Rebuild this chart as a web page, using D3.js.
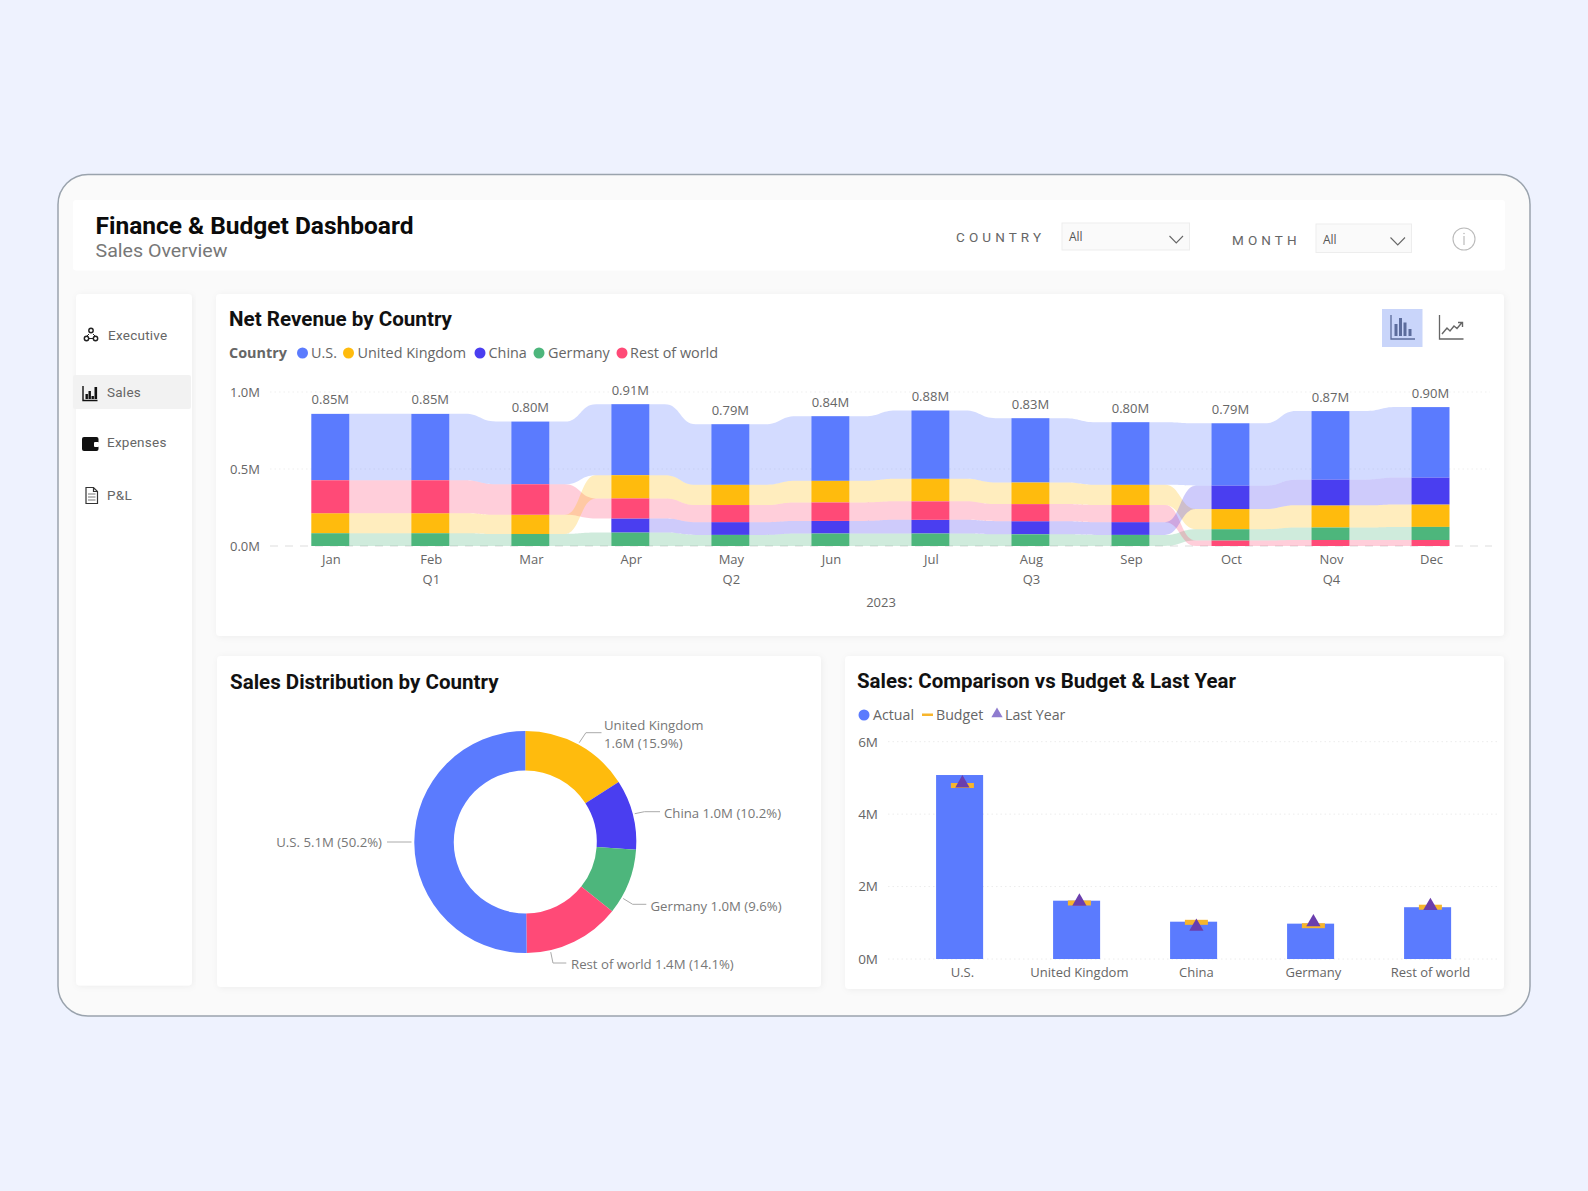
<!DOCTYPE html>
<html><head><meta charset="utf-8">
<script src="https://cdnjs.cloudflare.com/ajax/libs/d3/7.8.5/d3.min.js"></script>
<style>
html,body{margin:0;padding:0;background:#EEF2FE;}
svg{display:block;}
text{font-family:"Open Sans",sans-serif;fill:#666;}
.din{font-family:Roboto,sans-serif;}
.axis .domain{display:none;}
.axis line{display:none;}
</style></head><body>
<svg id="c" width="1588" height="1191"></svg>
<script>
// ---------- data ----------
const months = ["Jan","Feb","Mar","Apr","May","Jun","Jul","Aug","Sep","Oct","Nov","Dec"];
const quarterLabels = ["Q1","Q2","Q3","Q4"];
const quarterMonths = ["Feb","May","Aug","Nov"];
const yearLabel = "2023";
const seriesNames = ["U.S.","United Kingdom","China","Germany","Rest of world"];
const usValues      = [.431,.431,.407,.461,.394,.420,.444,.418,.407,.405,.445,.458];
const ukValues      = [.130,.130,.125,.151,.131,.140,.146,.140,.131,.131,.144,.146];
const chinaValues   = [null,null,null,.092,.083,.082,.089,.085,.083,.152,.167,.174];
const germanyValues = [.083,.083,.078,.087,.072,.081,.081,.076,.072,.074,.081,.085];
const restValues    = [.214,.214,.198,.130,.111,.120,.120,.111,.111,.035,.039,.039];
const totalLabels = ["0.85M","0.85M","0.80M","0.91M","0.79M","0.84M","0.88M","0.83M","0.80M","0.79M","0.87M","0.90M"];
const revenueTicks = [0,0.5,1];

const donutOrder = ["United Kingdom","China","Germany","Rest of world","U.S."];
const donutShare = [15.9,10.2,9.6,14.1,50.2];
const donutAmount = ["1.6M","1.0M","1.0M","1.4M","5.1M"];

const actualValues = [5.08,1.61,1.03,0.976,1.43];
const budgetValues = [4.79,1.547,1.013,0.92,1.43];
const lastYearValues = [4.85,1.587,0.893,1.016,1.467];
const salesTicks = [0,2,4,6];

const navItems = ["Executive","Sales","Expenses","P&L"];

// ---------- styles ----------
const colors = {"U.S.":"#5B7BFE","United Kingdom":"#FFBB0D","China":"#4A3EF0","Germany":"#4DB67C","Rest of world":"#FF4A77"};
const seriesValues = {"U.S.":usValues,"United Kingdom":ukValues,"China":chinaValues,"Germany":germanyValues,"Rest of world":restValues};

const svg = d3.select("#c");
const defs = svg.append("defs");
const f = defs.append("filter").attr("id","sh").attr("x","-3%").attr("y","-3%").attr("width","106%").attr("height","106%");
f.append("feDropShadow").attr("dx",1).attr("dy",1).attr("stdDeviation",3).attr("flood-color","#000").attr("flood-opacity",.05);

function rect(g,x0,y0,x1,y1,fill,extra={}){
  const r=g.append("rect").attr("x",x0).attr("y",y0).attr("width",x1-x0).attr("height",y1-y0).attr("fill",fill);
  Object.entries(extra).forEach(([k,v])=>r.attr(k,v));
  return r;
}
function label(g,x,y,txt,o={}){
  const t=g.append("text").attr("x",x).attr("y",y).text(txt);
  if(o.cls)t.attr("class",o.cls);
  t.attr("font-size",o.size||13).style("fill",o.fill||"#666");
  if(o.weight)t.attr("font-weight",o.weight);
  if(o.anchor)t.attr("text-anchor",o.anchor);
  if(o.ls)t.style("letter-spacing",o.ls+"px");
  if(o.w)t.attr("textLength",o.w).attr("lengthAdjust","spacingAndGlyphs");
  t.attr("dominant-baseline",o.base||"auto");
  return t;
}

// ---------- frame ----------
rect(svg,0,0,1588,1191,"#EEF2FE");
rect(svg,58,174.5,1530,1016,"#FAFAFA",{rx:30,ry:30,stroke:"#9AA3AD","stroke-width":1.5});
rect(svg,73,200,1505,270.5,"#fff",{rx:3});
rect(svg,76,294,192,985.5,"#fff",{rx:4,filter:"url(#sh)"});
rect(svg,216,294,1504,636,"#fff",{rx:4,filter:"url(#sh)"});
rect(svg,217,656,821,987,"#fff",{rx:4,filter:"url(#sh)"});
rect(svg,845,656,1504,989,"#fff",{rx:4,filter:"url(#sh)"});

// ---------- header ----------
const hdr=svg.append("g");
label(hdr,95.5,234,"Finance & Budget Dashboard",{cls:"din",size:24,weight:700,fill:"#0b0b0b",w:318});
label(hdr,95.5,257,"Sales Overview",{cls:"din",size:18.5,fill:"#777",w:132});
label(hdr,956,238.5,"COUNTRY",{cls:"din",size:13.5,fill:"#666",ls:4.1,base:"middle"});
label(hdr,1232,241,"MONTH",{cls:"din",size:13.5,fill:"#666",ls:4.1,base:"middle"});
const chev=d3.line();
function dropdown(x0,y0,x1,y1,tx,ty,cx0,cx1,cy0,cy1){
  rect(hdr,x0,y0,x1,y1,"#FAFAFA",{stroke:"#EDEDED"});
  label(hdr,tx,ty,"All",{size:12,fill:"#555",base:"middle"});
  hdr.append("path").attr("d",chev([[cx0,cy0],[(cx0+cx1)/2,cy1],[cx1,cy0]])).attr("fill","none").attr("stroke","#666").attr("stroke-width",1.1);
}
dropdown(1062,223,1189.5,250,1069,238,1169.5,1183,236,243);
dropdown(1316,224,1411.5,252.5,1323,240.5,1390.5,1405,237.5,245);
hdr.append("circle").attr("cx",1464).attr("cy",239).attr("r",11).attr("fill","none").attr("stroke","#bbb").attr("stroke-width",1.1);
hdr.append("line").attr("x1",1464).attr("x2",1464).attr("y1",236).attr("y2",245).attr("stroke","#bbb").attr("stroke-width",1.2);
hdr.append("circle").attr("cx",1464).attr("cy",233.5).attr("r",.8).attr("fill","#bbb");

// ---------- nav ----------
const nav=svg.append("g");
rect(nav,73,375,191,409,"#F2F2F2",{rx:2});
const navPos=[[108,336],[107,393.5],[107,443.5],[107,496.5]];
navItems.forEach((n,i)=>label(nav,navPos[i][0],navPos[i][1],n,{cls:"din",size:13.5,fill:"#666",ls:.25,base:"middle"}));
// executive icon
[[91,330.5],[86.5,338.5],[95.5,338.5]].forEach(p=>nav.append("circle").attr("cx",p[0]).attr("cy",p[1]).attr("r",2.2).attr("fill","none").attr("stroke","#222").attr("stroke-width",1.4));
nav.append("path").attr("d","M89 334L87 336M93 334L95 336M89 338.5H93").attr("stroke","#222").attr("fill","none");
// sales icon
nav.append("path").attr("d","M83 386V400.5H97.5").attr("stroke","#111").attr("stroke-width",1.4).attr("fill","none");
[[85.5,394,2.4],[88.5,391,2.4],[91.5,396,2.4],[94.5,387,2.6]].forEach(b=>rect(nav,b[0],b[1],b[0]+b[2],399,"#111"));
// wallet
rect(nav,82,437,98.5,451,"#111",{rx:2});
rect(nav,94,442,99,447,"#fff",{rx:1});
// doc
nav.append("path").attr("d","M86 487.5H93.5L97.5 491.5V503.5H86Z M93.5 487.5V491.5H97.5").attr("fill","#fff").attr("stroke","#333").attr("stroke-width",1.2);
nav.append("path").attr("d","M88 494H95.5M88 497H95.5M88 500H95.5").attr("stroke","#777").attr("stroke-width",1);

// ---------- ribbon chart ----------
const top_=svg.append("g");
label(top_,229,325.5,"Net Revenue by Country",{cls:"din",size:20,weight:700,fill:"#111",w:223});
label(top_,229,354,"Country",{size:14,weight:700,fill:"#666",base:"middle",w:58});
const legendPos=[[302.5,311],[348.5,357.5],[480,488.5],[539,548],[622,630]];
seriesNames.forEach((s,i)=>{
  top_.append("circle").attr("cx",legendPos[i][0]).attr("cy",353).attr("r",5.5).attr("fill",colors[s]);
  label(top_,legendPos[i][1],354,s,{size:14.4,fill:"#666",base:"middle"});
});
// toggle icons
rect(top_,1382,309,1422.5,347,"#C9D5FA");
top_.append("path").attr("d","M1391 315V339H1415").attr("stroke","#5C6C9C").attr("stroke-width",1.3).attr("fill","none");
[[1394.5,324],[1399,318],[1403.5,322.5],[1408.5,329]].forEach(b=>rect(top_,b[0],b[1],b[0]+3,336,"#5C6C9C"));
top_.append("path").attr("d","M1439.5 315V339H1463.5").attr("stroke","#666").attr("stroke-width",1.3).attr("fill","none");
top_.append("path").attr("d","M1442 334L1447 328L1450 331L1454 326L1457 328.5L1462 322.5M1458 322.5H1462.5V327").attr("stroke","#666").attr("stroke-width",1.4).attr("fill","none");

const x=d3.scaleBand().domain(months).range([280.3,1480.5]).paddingInner(.62).paddingOuter(.31);
const y=d3.scaleLinear().domain([0,1]).range([546,392]);

const stacks=months.map((m,i)=>{
  const items=seriesNames.filter(s=>seriesValues[s][i]!=null).map(s=>({s,v:seriesValues[s][i]})).sort((a,b)=>a.v-b.v);
  let c=0; const out={};
  items.forEach(d=>{out[d.s]={y0:c,y1:c+d.v};c+=d.v;});
  out.total=c; return out;
});

const grid=top_.append("g");
revenueTicks.filter(t=>t>0).forEach(t=>grid.append("line").attr("x1",270).attr("x2",1490).attr("y1",y(t)).attr("y2",y(t)).attr("stroke","#EFEFEF").attr("stroke-dasharray","1.5 3"));
grid.append("line").attr("x1",270).attr("x2",1492).attr("y1",y(0)).attr("y2",y(0)).attr("stroke","#DDD").attr("stroke-width",1.2).attr("stroke-dasharray","8 7");

const ribbonArea=d3.area().x(d=>d.x).y0(d=>y(d.y0)).y1(d=>y(d.y1)).curve(d3.curveBumpX);
const ribbons=top_.append("g");
["Germany","Rest of world","United Kingdom","China","U.S."].forEach(s=>{
  for(let i=0;i<months.length-1;i++){
    const a=stacks[i][s],b=stacks[i+1][s]; if(!a||!b)continue;
    const x0=x(months[i])+x.bandwidth(),x1=x(months[i+1]),g=x1-x0;
    const pts=[{x:x0,...a},{x:x0+g*.25,...a},{x:x1-g*.25,...b},{x:x1,...b}];
    ribbons.append("path").attr("d",ribbonArea(pts)).attr("fill",colors[s]).attr("fill-opacity",.27);
  }
});
const bars=top_.append("g");
seriesNames.forEach(s=>{
  bars.selectAll(null).data(months.map((m,i)=>({m,d:stacks[i][s]})).filter(e=>e.d)).join("rect")
    .attr("x",e=>x(e.m)).attr("width",x.bandwidth())
    .attr("y",e=>y(e.d.y1)).attr("height",e=>y(e.d.y0)-y(e.d.y1)).attr("fill",colors[s]);
});
top_.append("g").selectAll(null).data(months).join("text")
  .attr("x",m=>x(m)+x.bandwidth()/2).attr("y",(m,i)=>y(stacks[i].total)-13)
  .attr("text-anchor","middle").attr("dominant-baseline","middle").attr("font-size",13).style("fill","#666")
  .text((m,i)=>totalLabels[i]);

const yAx=top_.append("g").attr("class","axis").attr("transform","translate(268,0)")
  .call(d3.axisLeft(y).tickValues(revenueTicks).tickSize(0).tickPadding(8).tickFormat(d=>d.toFixed(1)+"M"));
yAx.selectAll("text").attr("font-size",13).attr("font-family","Open Sans").style("fill","#666");
const xAx=top_.append("g").attr("class","axis").attr("transform","translate(1,546)")
  .call(d3.axisBottom(x).tickSize(0).tickPadding(9));
xAx.selectAll("text").attr("font-size",13).attr("font-family","Open Sans").style("fill","#666");
quarterLabels.forEach((q,i)=>label(top_,x(quarterMonths[i])+x.bandwidth()/2+1,580.5,q,{size:13,anchor:"middle",base:"middle"}));
label(top_,881,604,yearLabel,{size:13,anchor:"middle",base:"middle"});

// ---------- donut ----------
const dg=svg.append("g");
label(dg,230,689,"Sales Distribution by Country",{cls:"din",size:20,weight:700,fill:"#111",w:268.5});
const cx=525.3,cy=842,R=111,r0=71.5;
const pie=d3.pie().sort(null).startAngle(0).endAngle(2*Math.PI);
const arcs=pie(donutShare);
const arc=d3.arc().innerRadius(r0).outerRadius(R);
dg.append("g").attr("transform",`translate(${cx},${cy})`).selectAll("path").data(arcs).join("path")
  .attr("d",arc).attr("fill",(d,i)=>colors[donutOrder[i]]);
const donutLabels=[
  {a:28.5,el:16,tx:604,lines:[[726,"United Kingdom"],[744.5,"1.6M (15.9%)"]],lx:601.5,ly:732.7},
  {a:75.5,el:12,tx:664,lines:[[814.5,"China 1.0M (10.2%)"]],lx:660,ly:811.7},
  {a:120,el:13,tx:650.5,lines:[[907.7,"Germany 1.0M (9.6%)"]],lx:646.3,ly:904.3},
  {a:167,el:12,tx:571,lines:[[965.5,"Rest of world 1.4M (14.1%)"]],lx:566.3,ly:963},
];
const leader=d3.line();
donutLabels.forEach(d=>{
  const t=d.a*Math.PI/180, sx=cx+(R+2)*Math.sin(t), sy=cy-(R+2)*Math.cos(t);
  const ex=cx+(R+d.el)*Math.sin(t);
  dg.append("path").attr("d",leader([[sx,sy],[ex,d.ly],[d.lx,d.ly]])).attr("fill","none").attr("stroke","#aaa").attr("stroke-width",1);
  d.lines.forEach(l=>label(dg,d.tx,l[0],l[1],{size:13.2,fill:"#777",base:"middle"}));
});
dg.append("path").attr("d",leader([[387,842],[411.5,842]])).attr("stroke","#aaa").attr("fill","none");
label(dg,382,843,"U.S. 5.1M (50.2%)",{size:13.2,fill:"#777",anchor:"end",base:"middle"});

// ---------- comparison ----------
const cg=svg.append("g");
label(cg,857,688,"Sales: Comparison vs Budget & Last Year",{cls:"din",size:20,weight:700,fill:"#111",w:379});
cg.append("circle").attr("cx",864).attr("cy",715).attr("r",5.5).attr("fill","#5B7BFE");
label(cg,873,716,"Actual",{size:14.2,base:"middle"});
rect(cg,922,713.5,933,716,"#F7B52C");
label(cg,936,716,"Budget",{size:14.2,base:"middle"});
cg.append("path").attr("d",d3.symbol(d3.symbolTriangle,55)()).attr("transform","translate(997,714)").attr("fill","#8F7CCF");
label(cg,1005,716,"Last Year",{size:14.2,base:"middle"});

const sx=d3.scaleBand().domain(seriesNames).range([903.9,1488.9]).paddingInner(.598).paddingOuter(.299);
const sy=d3.scaleLinear().domain([0,6]).range([959,741.7]);
salesTicks.forEach(t=>cg.append("line").attr("x1",888).attr("x2",1500).attr("y1",sy(t)).attr("y2",sy(t)).attr("stroke","#ECECEC").attr("stroke-dasharray","1.5 3"));
const mid=c=>sx(c)+sx.bandwidth()/2;
cg.append("g").selectAll("rect").data(seriesNames).join("rect")
  .attr("x",c=>sx(c)-2.8).attr("width",sx.bandwidth())
  .attr("y",(c,i)=>sy(actualValues[i])).attr("height",(c,i)=>sy(0)-sy(actualValues[i])).attr("fill","#5B7BFE");
cg.append("g").selectAll("rect").data(seriesNames).join("rect")
  .attr("x",c=>mid(c)-11.5).attr("width",23).attr("height",5)
  .attr("y",(c,i)=>sy(budgetValues[i])-2.5).attr("fill","#F7B52C");
cg.append("g").selectAll("path").data(seriesNames).join("path")
  .attr("d",d3.symbol(d3.symbolTriangle,88)())
  .attr("transform",(c,i)=>`translate(${mid(c)},${sy(lastYearValues[i])})`).attr("fill","#6A3EAE");
const syAx=cg.append("g").attr("class","axis").attr("transform","translate(888,0)")
  .call(d3.axisLeft(sy).tickValues(salesTicks).tickSize(0).tickPadding(10).tickFormat(d=>d+"M"));
syAx.selectAll("text").attr("font-size",13.5).attr("font-family","Open Sans").style("fill","#666");
const sxAx=cg.append("g").attr("class","axis").attr("transform","translate(0,959)")
  .call(d3.axisBottom(sx).tickSize(0).tickPadding(9));
sxAx.selectAll("text").attr("font-size",13).attr("font-family","Open Sans").style("fill","#666");
</script>
</body></html>
